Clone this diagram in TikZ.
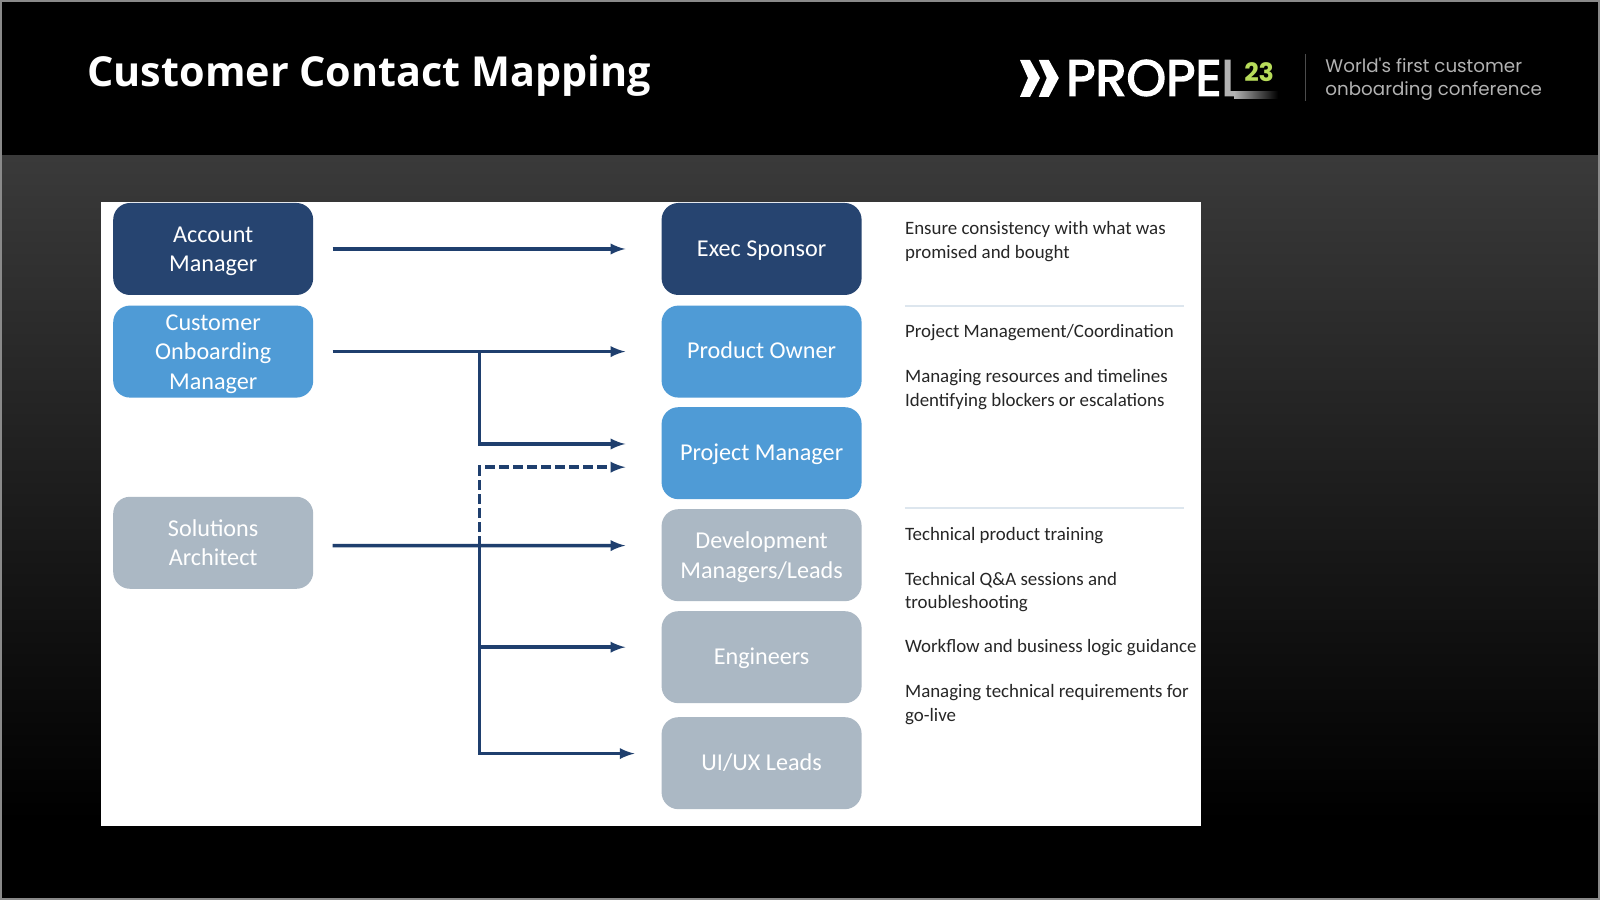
\documentclass[tikz,border=0pt]{standalone}
\usepackage{fontspec}
\setmainfont{Carlito}
\newfontfamily\titlefont{Open Sans}
\newfontfamily\logofont{Poppins}[FakeBold=3]
\newfontfamily\tagfont{Poppins}
\usetikzlibrary{positioning}
\definecolor{slideframe}{HTML}{8A8A8A}
\definecolor{bandgray}{HTML}{3A3A3A}
\definecolor{navyblue}{HTML}{264470}
\definecolor{midblue}{HTML}{4F9BD6}
\definecolor{slategray}{HTML}{ABB8C4}
\definecolor{flowblue}{HTML}{1F3F6E}
\definecolor{rulegray}{HTML}{DDE6EE}
\definecolor{limegreen}{HTML}{B8DC5A}
\newcommand{\rolestrut}{\rule[-0.25em]{0pt}{1.1em}}
\newcommand{\stackgap}{\mbox{}\\[-6pt]}
\newcommand{\stackend}{\rule[-3.5pt]{0pt}{0pt}}
\tikzset{
  stackbox/.style={rectangle, rounded corners=0.42cm, minimum width=5cm, minimum height=2.3cm, text=white, align=center, inner sep=0pt, font=\fontsize{17.2}{21}\selectfont},
  rolebox/.style={stackbox, execute at begin node=\rolestrut, execute at end node=\rolestrut},
  duty/.style={anchor=west, align=left, inner sep=0pt, text=black!85, font=\fontsize{13.45}{16.9}\selectfont},
  flow/.style={-latex, flowblue, line width=0.09cm},
  dashflow/.style={flow, dash pattern=on 0.24cm off 0.11cm}
}
\begin{document}
\begin{tikzpicture}
\useasboundingbox (0,0) rectangle (40,22.5);
% Slide background and header band
\fill[black] (0,0) rectangle (40,22.5);
\shade[top color=bandgray, bottom color=black] (0,2) rectangle (40,18.6);
\draw[slideframe, line width=0.05cm] (0.025,0.025) rectangle (39.975,22.475);
\node[anchor=west, inner sep=0pt, text=white, font=\titlefont\bfseries\fontsize{29.4}{34}\selectfont] (slidetitle) at (2.18,20.6) {Customer Contact Mapping};
% Conference logo
\fill[white] (25.5,21.0) -- (25.75,21.0) -- (26.0,20.55) -- (25.75,20.08) -- (25.5,20.08) -- (25.7,20.55) -- cycle;
\fill[white] (25.97,21.0) -- (26.22,21.0) -- (26.47,20.55) -- (26.22,20.08) -- (25.97,20.08) -- (26.17,20.55) -- cycle;
\node[anchor=west, inner sep=0pt, text=white, font=\logofont\fontsize{36}{40}\selectfont] (logotext) at (26.65,20.55) {PROPE\textcolor{white!70!black}{L}};
\node[anchor=west, inner sep=0pt, text=limegreen, font=\tagfont\bfseries\fontsize{18}{20}\selectfont] (logoyear) at (31.1,20.7) {23};
\shade[left color=white!70!black, right color=black] (30.85,20.04) rectangle (31.95,20.22);
\draw[white!30!black, line width=0.04cm] (32.64,21.15) -- (32.64,19.98);
\node[anchor=west, inner sep=0pt, align=left, text=white!70!black, font=\tagfont\fontsize{13}{16}\selectfont] (tagline) at (33.13,20.52) {World's first customer\\onboarding conference};
% White panel
\fill[white] (2.53,1.84) rectangle (30.03,17.45);
% Left column
\node[stackbox, fill=navyblue] (accountmgr) at (5.33,16.275) {\stackgap Account\\Manager\stackend};
\node[stackbox, fill=midblue] (onboardmgr) at (5.33,13.71) {\stackgap Customer\\Onboarding\\Manager\stackend};
\node[stackbox, fill=slategray] (solutionsarch) at (5.33,8.93) {\stackgap Solutions\\Architect\stackend};
% Right column
\node[rolebox, fill=navyblue] (execsponsor) at (19.04,16.275) {Exec Sponsor};
\node[rolebox, fill=midblue] (productowner) at (19.04,13.71) {Product Owner};
\node[rolebox, fill=midblue] (projectmgr) at (19.04,11.17) {Project Manager};
\node[stackbox, fill=slategray] (devmgrs) at (19.04,8.62) {\stackgap Development\\Managers/Leads\stackend};
\node[rolebox, fill=slategray] (engineers) at (19.04,6.07) {Engineers};
\node[rolebox, fill=slategray] (uxleads) at (19.04,3.42) {UI/UX Leads};
% Junctions
\coordinate (onboardjoin) at (11.99,13.71);
\coordinate (solutionsjoin) at (11.99,8.86);
% Connectors
\draw[flow] ([xshift=0.48cm]accountmgr.east) -- ([xshift=-0.9cm]execsponsor.west);
\draw[flow] ([xshift=0.48cm]onboardmgr.east) -- ([xshift=-0.9cm]productowner.west);
\draw[flow] (onboardjoin) |- ([xshift=-0.9cm,yshift=0.23cm]projectmgr.west);
\draw[dashflow] (solutionsjoin) |- ([xshift=-0.9cm,yshift=-0.35cm]projectmgr.west);
\draw[flow] ([xshift=0.48cm,yshift=-0.07cm]solutionsarch.east) -- ([xshift=-0.9cm,yshift=0.24cm]devmgrs.west);
\draw[flow] (solutionsjoin) |- ([xshift=-0.9cm,yshift=0.25cm]engineers.west);
\draw[flow] (solutionsjoin) |- ([xshift=-0.67cm,yshift=0.24cm]uxleads.west);
% Descriptions and rules
\node[duty] (dutyexec) at (22.62,16.47) {Ensure consistency with what was\\promised and bought};
\coordinate (ruleonel) at (22.62,14.85);
\coordinate (ruleoner) at (29.6,14.85);
\draw[rulegray, line width=0.05cm] (ruleonel) -- (ruleoner);
\node[duty] (dutycoord) at (22.62,14.19) {Project Management/Coordination};
\node[duty] (dutytime) at (22.62,12.77) {Managing resources and timelines\\Identifying blockers or escalations};
\coordinate (ruletwol) at (22.62,9.8);
\coordinate (ruletwor) at (29.6,9.8);
\draw[rulegray, line width=0.05cm] (ruletwol) -- (ruletwor);
\node[duty] (dutytrain) at (22.62,9.11) {Technical product training};
\node[duty] (dutyqa) at (22.62,7.7) {Technical Q\&A sessions and\\troubleshooting};
\node[duty] (dutylogic) at (22.62,6.31) {Workflow and business logic guidance};
\node[duty] (dutyreq) at (22.62,4.89) {Managing technical requirements for\\go-live};
\end{tikzpicture}
\end{document}
